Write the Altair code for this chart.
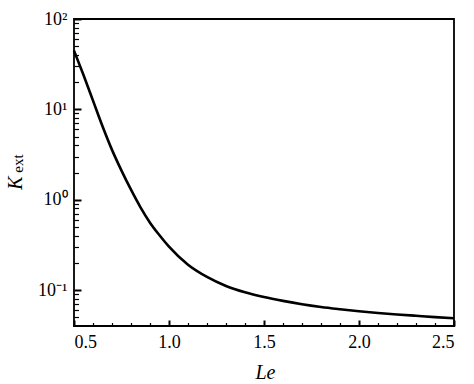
import altair as alt
import pandas as pd

le = [0.5, 0.55, 0.6, 0.65, 0.7, 0.75, 0.8, 0.85, 0.9, 0.95, 1.0, 1.1, 1.2, 1.3,
      1.4, 1.5, 1.6, 1.7, 1.8, 1.9, 2.0, 2.1, 2.2, 2.3, 2.4, 2.5]
kext = [44.7, 24.0, 12.5, 6.5, 3.56, 2.10, 1.29, 0.824, 0.557, 0.404, 0.302, 0.1905,
        0.1396, 0.1109, 0.0944, 0.0837, 0.0759, 0.0697, 0.0650, 0.0614, 0.0583,
        0.0558, 0.0537, 0.0519, 0.0502, 0.0488]

x_major = [0.5, 1.0, 1.5, 2.0, 2.5]
x_minor = [0.6, 0.7, 0.8, 0.9, 1.1, 1.2, 1.3, 1.4, 1.6, 1.7, 1.8, 1.9, 2.1, 2.2, 2.3, 2.4]
y_major = [0.1, 1, 10, 100]
y_minor = [0.05, 0.06, 0.07, 0.08, 0.09,
           0.2, 0.3, 0.4, 0.5, 0.6, 0.7, 0.8, 0.9,
           2, 3, 4, 5, 6, 7, 8, 9,
           20, 30, 40, 50, 60, 70, 80, 90]

df = pd.DataFrame({"le": le, "k": kext})

W, H = 380, 307
FONT = "Liberation Serif"

xs = alt.Scale(domain=[0.5, 2.5], nice=False, zero=False)
ys = alt.Scale(type="log", domain=[0.04, 100], nice=False)

base = alt.Chart(df)

main = base.mark_line(color="black", strokeWidth=2.6, interpolate="monotone").encode(
    x=alt.X("le:Q", scale=xs, axis=alt.Axis(
        orient="bottom", values=x_major, format=".1f", ticks=False, domain=False,
        grid=False, labelFont=FONT, labelFontSize=18, labelColor="black",
        labelPadding=7, title="Le", titleFont=FONT, titleFontSize=20,
        titleFontStyle="italic", titleFontWeight="normal", titleColor="black",
        titleX=191, titleY=52, titleBaseline="alphabetic", titleAlign="center")),
    y=alt.Y("k:Q", scale=ys, axis=alt.Axis(
        orient="left", values=y_major, ticks=False, domain=False, grid=False,
        labelExpr="datum.value >= 50 ? '10²' : datum.value >= 5 ? '10¹' : datum.value >= 0.5 ? '10⁰' : '10⁻¹'",
        labelFont=FONT, labelFontSize=18, labelColor="black", labelPadding=7,
        title="K", titleFont=FONT, titleFontSize=20, titleFontStyle="italic",
        titleFontWeight="normal", titleColor="black", titleAngle=270,
        titleX=-53, titleY=163.5, titleBaseline="alphabetic", titleAlign="center")),
)


def tick_layer(xvals, xsize, xwidth, yvals, ysize, ywidth):
    return base.mark_line(opacity=0).encode(
        x=alt.X("le:Q", scale=xs, axis=alt.Axis(
            orient="top", offset=-H, values=xvals, labels=False, domain=False,
            grid=False, ticks=True, tickSize=xsize, tickWidth=xwidth,
            tickColor="black", title="")),
        y=alt.Y("k:Q", scale=ys, axis=alt.Axis(
            orient="right", offset=-W, values=yvals, labels=False, domain=False,
            grid=False, ticks=True, tickSize=ysize, tickWidth=ywidth,
            tickColor="black", title="")),
    )


major_ticks = tick_layer(x_major, 6, 2, y_major, 7, 2)
minor_ticks = tick_layer(x_minor, 3.5, 1.2, y_minor, 4.5, 1.2)

sub = base.mark_line(opacity=0).encode(
    x=alt.X("le:Q", scale=xs, axis=alt.Axis(
        orient="bottom", labels=False, ticks=False, domain=False, grid=False, title="")),
    y=alt.Y("k:Q", scale=ys, axis=alt.Axis(
        orient="left", labels=False, ticks=False, domain=False, grid=False,
        title="ext", titleFont=FONT, titleFontSize=15, titleFontStyle="normal",
        titleFontWeight="normal", titleColor="black", titleAngle=270,
        titleX=-51.5, titleY=144, titleBaseline="alphabetic", titleAlign="center")),
)

chart = alt.layer(main, major_ticks, minor_ticks, sub).resolve_axis(
    x="independent", y="independent"
).properties(
    width=W, height=H,
    autosize=alt.AutoSizeParams(type="none"),
    padding={"left": 74, "top": 19, "right": 20, "bottom": 58},
).configure(
    background="white", font=FONT
).configure_view(stroke="black", strokeWidth=1.8)

chart.save("out.html", embed_options={"renderer": "svg", "actions": False})
